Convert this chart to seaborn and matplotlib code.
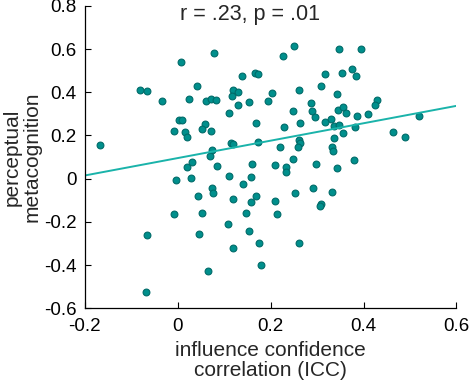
import matplotlib
matplotlib.use("Agg")
import matplotlib.pyplot as plt
import seaborn as sns
import pandas as pd

# influence confidence correlation (ICC) per participant
icc = [
    -0.167, -0.081, -0.066, -0.033, 0.007, 0.078, 0.041, 0.024, 0.060, 0.071,
    0.082, 0.003, 0.010, -0.008, 0.015, 0.019, 0.058, 0.053, 0.072, 0.074,
    0.069, 0.085, 0.019, 0.030, 0.119, 0.129, 0.117, 0.139, 0.130, 0.111,
    0.153, 0.167, 0.173, 0.168, 0.114, 0.118, 0.172, 0.159, 0.195, 0.202,
    0.251, 0.227, 0.347, 0.394, 0.317, 0.354, 0.375, 0.383, 0.309, 0.261,
    0.342, 0.286, 0.428, 0.424, 0.248, 0.288, 0.296, 0.345, 0.355, 0.363,
    0.386, 0.410, 0.330, 0.316, 0.336, 0.348, 0.264, 0.229, 0.382, 0.520,
    0.463, 0.490, 0.356, 0.336, 0.261, 0.264, 0.258, 0.220, 0.332, 0.335,
    0.249, 0.379, 0.209, 0.234, 0.297, 0.343, -0.004, 0.028, 0.073, 0.075,
    0.043, 0.110, 0.141, 0.157, 0.118, 0.168, 0.157, -0.007, 0.053, 0.147,
    0.108, 0.153, -0.066, 0.045, 0.174, 0.118, 0.180, 0.066, -0.069, 0.234,
    0.252, 0.291, 0.332, 0.210, 0.308, 0.307, 0.213, 0.260,
]
# perceptual metacognition per participant
meta = [
    0.157, 0.410, 0.407, 0.360, 0.540, 0.582, 0.429, 0.369, 0.358, 0.369,
    0.365, 0.270, 0.270, 0.222, 0.218, 0.193, 0.255, 0.229, 0.219, 0.132,
    0.104, 0.061, 0.053, 0.076, 0.410, 0.402, 0.382, 0.475, 0.339, 0.302,
    0.355, 0.487, 0.485, 0.259, 0.164, 0.161, 0.171, 0.068, 0.361, 0.395,
    0.612, 0.566, 0.600, 0.600, 0.484, 0.489, 0.509, 0.476, 0.430, 0.410,
    0.390, 0.350, 0.363, 0.342, 0.312, 0.313, 0.287, 0.316, 0.330, 0.304,
    0.291, 0.298, 0.276, 0.261, 0.244, 0.247, 0.256, 0.241, 0.241, 0.291,
    0.215, 0.192, 0.210, 0.190, 0.179, 0.164, 0.148, 0.148, 0.148, 0.130,
    0.091, 0.085, 0.062, 0.054, 0.067, 0.051, -0.006, 0.005, -0.041, -0.067,
    -0.081, 0.013, -0.023, 0.008, -0.093, -0.078, -0.109, -0.163, -0.161, -0.159,
    -0.209, -0.240, -0.260, -0.258, -0.297, -0.323, -0.400, -0.426, -0.526, 0.033,
    -0.064, -0.044, -0.061, -0.103, -0.115, -0.126, -0.164, -0.297,
]
x_ticks = [-0.2, 0, 0.2, 0.4, 0.6]
y_ticks = [-0.6, -0.4, -0.2, 0, 0.2, 0.4, 0.6, 0.8]
stats_label = "r = .23, p = .01"

df = pd.DataFrame({"icc": icc, "meta": meta})

sns.set_theme(style="ticks")
plt.rcParams["font.family"] = ["Liberation Sans", "DejaVu Sans"]

fig = plt.figure(figsize=(4.74, 3.92), dpi=100)
ax = fig.add_axes([0.179, 0.2135, 0.784, 0.7715])
ax.set_xlim(-0.2, 0.6)
ax.set_ylim(-0.6, 0.8)

sns.regplot(data=df, x="icc", y="meta", ci=None, truncate=False, ax=ax,
            scatter_kws={"s": 24, "color": "#008f8c", "edgecolor": "#006b69",
                         "linewidths": 0.8, "alpha": 1},
            line_kws={"color": "#1ab3aa", "linewidth": 1.4})

ax.set_xlim(-0.2, 0.6)
ax.set_ylim(-0.6, 0.8)
ax.set_xticks(x_ticks)
ax.set_xticklabels(["-0.2", "0", "0.2", "0.4", "0.6"])
ax.set_yticks(y_ticks)
ax.set_yticklabels(["-0.6", "-0.4", "-0.2", "0", "0.2", "0.4", "0.6", "0.8"])
ax.tick_params(direction="in", length=4, width=0.8, labelsize=13.5, colors="black")
ax.tick_params(axis="x", pad=7)
ax.tick_params(axis="y", pad=6)
for s in ["left", "bottom"]:
    ax.spines[s].set_linewidth(0.9)
    ax.spines[s].set_color("black")
sns.despine(ax=ax)

ax.set_xlabel("influence confidence\ncorrelation (ICC)", fontsize=15, linespacing=1.1,
              labelpad=4)
ax.set_ylabel("perceptual\nmetacognition", fontsize=15, linespacing=1.05, labelpad=2)
ax.text(0.444, 0.973, stats_label, transform=ax.transAxes, ha="center", va="center",
        fontsize=15.5)

fig.savefig("out.png", dpi=100)
